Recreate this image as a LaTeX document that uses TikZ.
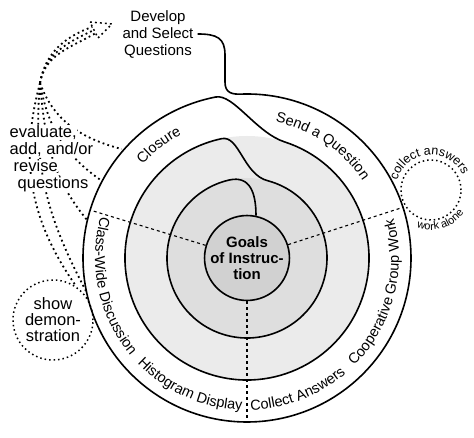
\documentclass[tikz,border=0pt]{standalone}
\usepackage{fontspec}
\setmainfont{Liberation Sans}
\usetikzlibrary{decorations.text}
\definecolor{ringlight}{gray}{0.92}
\definecolor{ringmid}{gray}{0.87}
\definecolor{goalsgray}{gray}{0.82}
\newcommand\bandfont{\fontsize{14.5}{16}\selectfont}
\newcommand\wbox[1]{{\setlength\fboxsep{0.5pt}\colorbox{white}{#1}}}

\begin{document}
\begin{tikzpicture}[x=1pt,y=1pt,
  spiral/.style={black, line width=1.6pt},
  sector/.style={black, line width=1.1pt, dash pattern=on 3pt off 3pt},
  dots/.style={black, line width=1.8pt, dash pattern=on 1.8pt off 3.2pt},
  band/.style={decorate, decoration={text along path, text align=center, text={|\bandfont|#1}}}]
\useasboundingbox (-247,-180) rectangle (227,258);
\fill[ringlight] (0,0) circle (122);
\fill[ringmid] (0,0) circle (80);

\node[circle, draw, spiral, fill=goalsgray, minimum size=82pt, inner sep=0pt, align=center, font=\fontsize{15}{16}\selectfont\bfseries] (goals) at (0,0) {Goals\\of Instruc-\\tion};
\node[align=center, inner sep=4pt, font=\fontsize{15}{17}\selectfont] (develop) at (-89,224) {Develop\\and Select\\Questions};

\foreach \a in {163,18,270} {\coordinate (rim\a) at (\a:164); \draw[sector] (goals.\a) -- (rim\a);}

\draw[spiral] (develop.east) .. controls (-30,224) and (-22,220) .. (-22,203) -- (-22,176) .. controls (-22,165) and (-15,163.5) .. (92:164)
  arc[start angle=92, end angle=-259, radius=164]
  .. controls +(11:18) and +(162:30) .. (72:122)
  arc[start angle=72, end angle=-258, radius=122]
  .. controls +(12:18) and +(166:25) .. (75:80)
  arc[start angle=75, end angle=-257, radius=80]
  .. controls +(13:22) and +(0,22) .. (goals.78);

\path[band={Closure}] (168:140) arc[start angle=168, end angle=88, radius=140];
\path[band={Send a Question}] (96:139) arc[start angle=96, end angle=16, radius=139];
\path[band={Cooperative Group Work}] (-55:152) arc[start angle=-55, end angle=25, radius=152];
\path[band={Collect Answers}] (-99:152) arc[start angle=-99, end angle=-39, radius=152];
\path[band={Histogram Display}] (-144:152) arc[start angle=-144, end angle=-84, radius=152];
\path[band={Class-Wide Discussion}] (152:152) arc[start angle=152, end angle=232, radius=152];

\node[circle, draw, dots, line width=1.5pt, dash pattern=on 1.5pt off 3pt, minimum size=80pt, inner sep=0pt, align=center, font=\fontsize{16.5}{16}\selectfont] (demo) at (-194,-62) {show\\demon-\\stration};
\node[circle, draw, dots, line width=1.5pt, dash pattern=on 1.5pt off 3pt, minimum size=60pt] (alone) at (184,68) {};
\path[shift={(alone.center)}, decorate, decoration={text along path, text align=center, text={|\fontsize{12.5}{13}\selectfont|collect answers}}] (185:35) arc[start angle=185, end angle=5, radius=35];
\path[shift={(alone.center)}, decorate, decoration={text along path, text align=center, text={|\fontsize{11}{12}\selectfont|work alone}}] (-125:40) arc[start angle=-125, end angle=-21, radius=40];

\coordinate (fan) at (-207,175);
\coordinate (t1) at (139:166);
\coordinate (t2) at (152:165);
\coordinate (t3) at (167:163);
\coordinate (t4) at (192:164);
\coordinate (tip1) at (-154.6,231.2);
\coordinate (tip2) at (-153,228);
\coordinate (tip3) at (-151.4,224.8);
\foreach \t/\o/\i in {t1/-70/165, t2/-80/145, t3/-85/130, t4/-95/118, demo.55/-105/125} \draw[dots] (fan) to[out=\o,in=\i] (\t);
\foreach \k/\i in {1/200, 2/205, 3/210} \draw[dots] (fan) to[out=80,in=\i] (tip\k);
\draw[dots, line width=1.5pt] (-157,236) -- (-135,234) -- (-149,220) -- cycle;

\node[anchor=west, align=left, inner sep=0pt, font=\fontsize{16.5}{17}\selectfont] (evaluate) at (-238,99.5) {\wbox{evaluate,}\\\wbox{add, and/or}\\\hspace*{4pt}\wbox{revise}\\\hspace*{8pt}\wbox{questions}};

\end{tikzpicture}
\end{document}
